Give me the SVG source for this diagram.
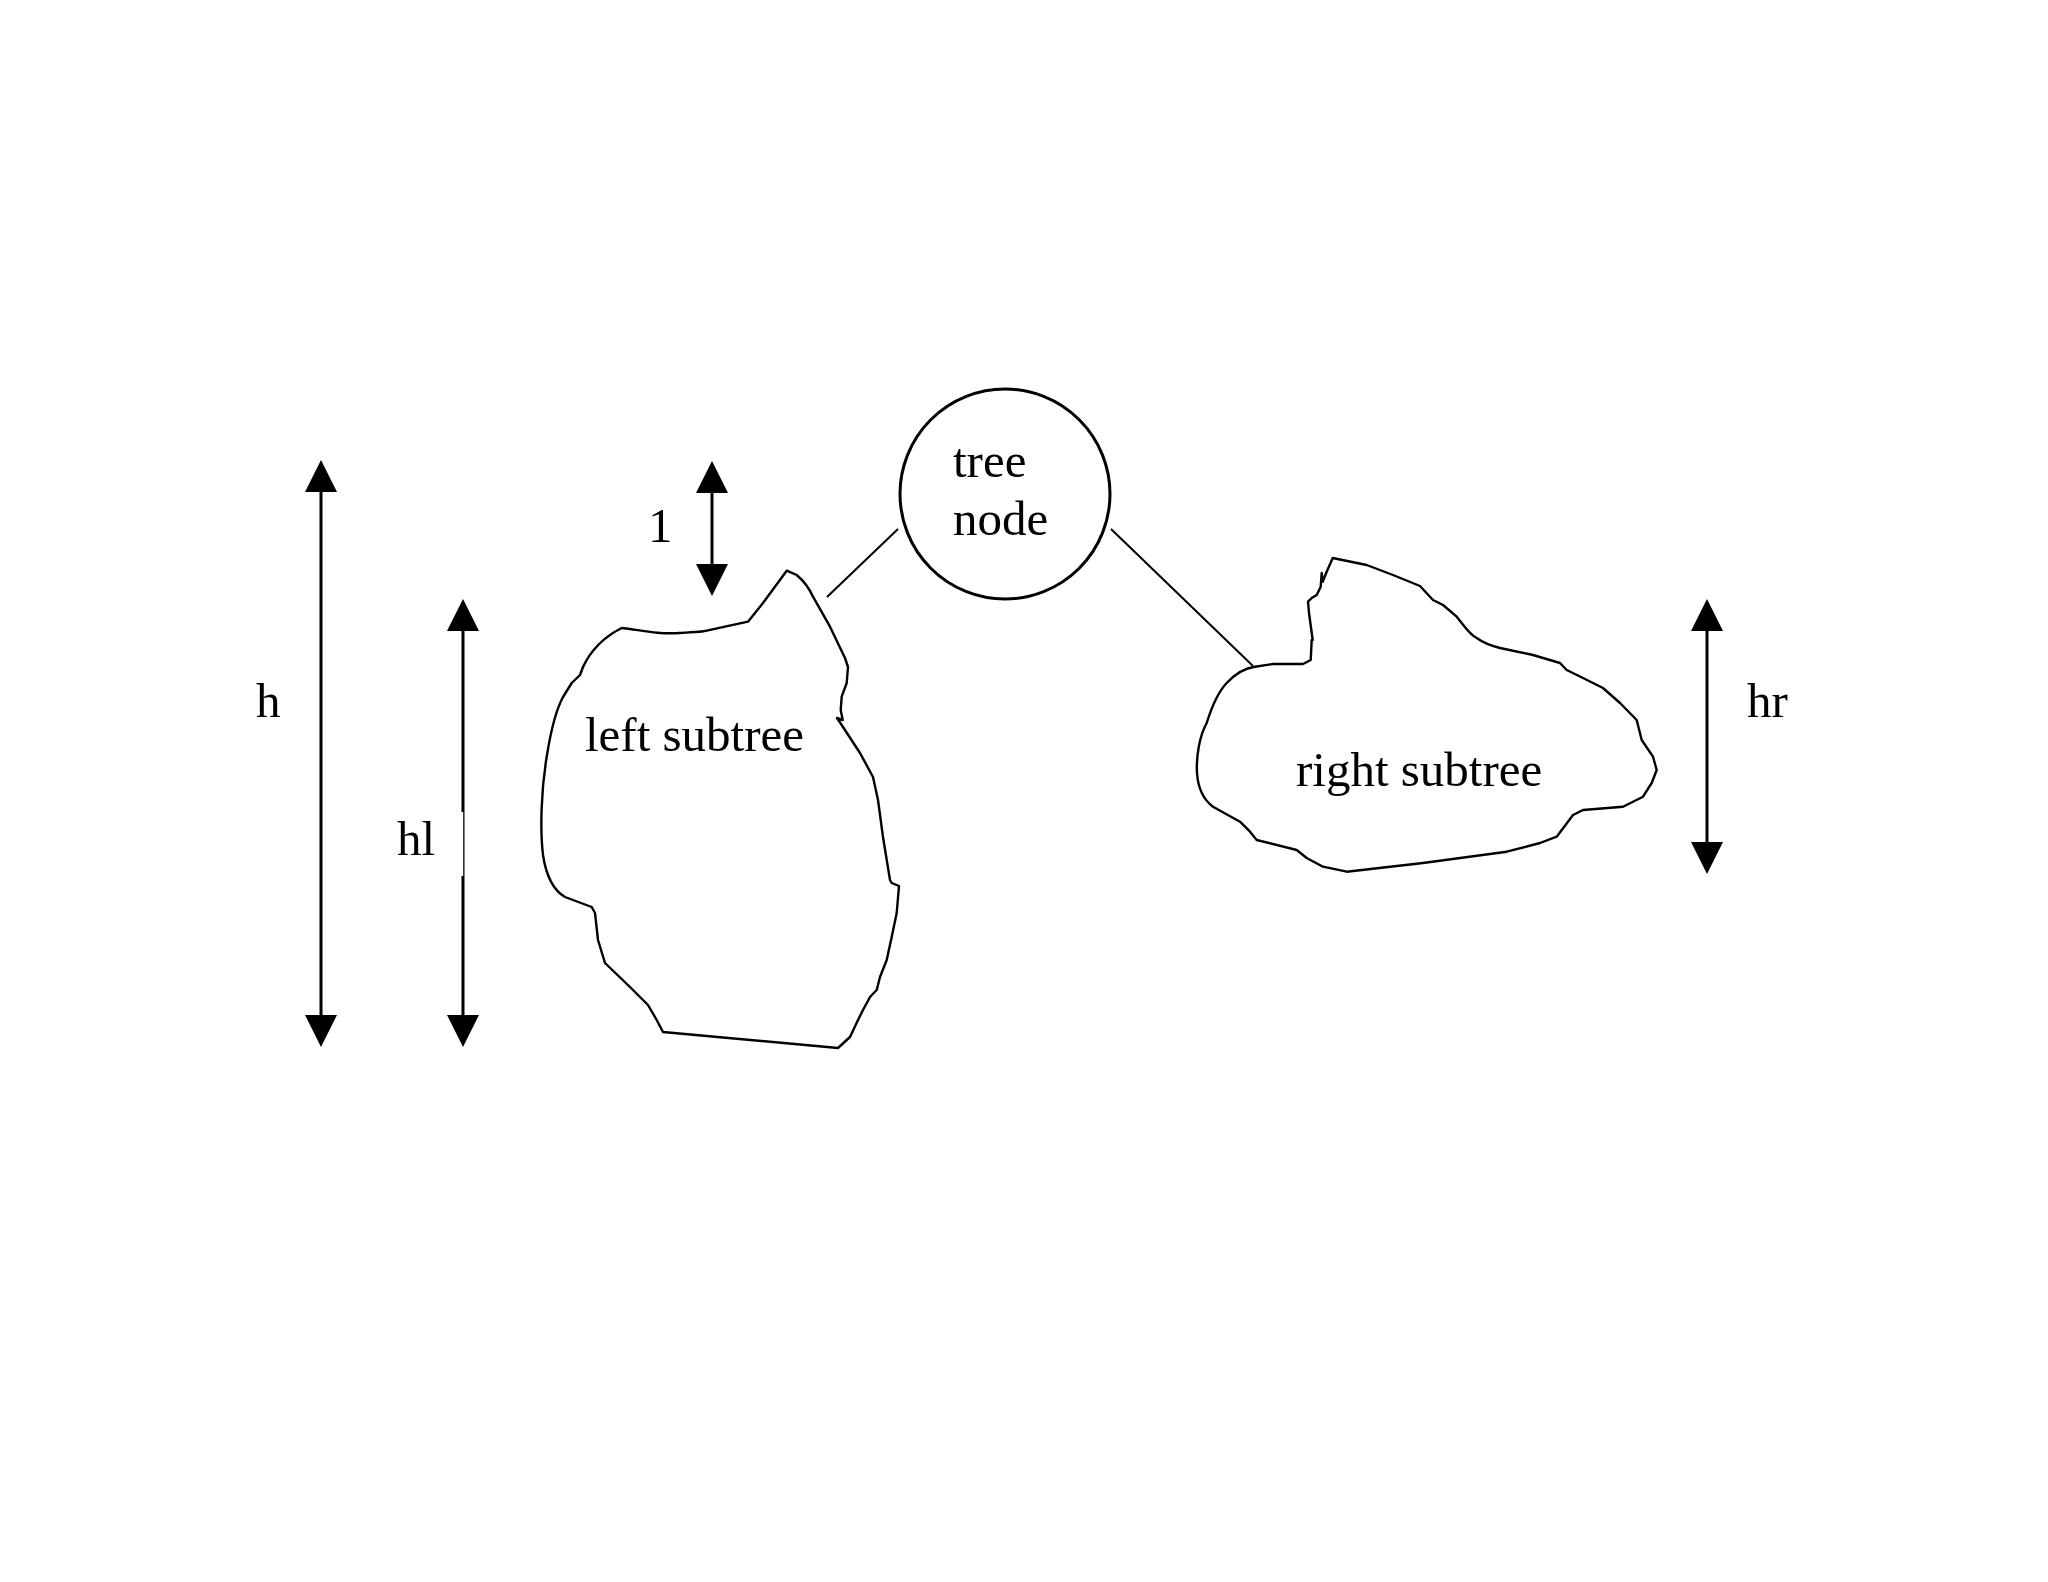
<svg xmlns="http://www.w3.org/2000/svg" width="2048" height="1582" viewBox="0 0 2048 1582">
<style>
  .lbl { font-family: "Liberation Serif", "Times New Roman", serif; font-size: 49px; fill: #000; }
  .blob { fill: none; stroke: #000; stroke-width: 2.4; stroke-linejoin: round; stroke-linecap: round; }
  .edge { stroke: #000; stroke-width: 2; fill: none; }
  .dim { stroke: #000; stroke-width: 3; fill: none; marker-start: url(#head); marker-end: url(#head); }
</style>
<defs>
  <marker id="head" viewBox="0 -16 32 32" markerWidth="32" markerHeight="32" refX="1" refY="0" orient="auto-start-reverse" markerUnits="userSpaceOnUse">
    <path d="M0,-16 L32,0 L0,16 Z" fill="#000"/>
  </marker>
</defs>
<rect width="2048" height="1582" fill="#fff"/>

<g id="connectors">
  <line class="edge" x1="898" y1="529" x2="827" y2="597"/>
  <line class="edge" x1="1111" y1="529" x2="1253" y2="666"/>
</g>

<g id="node-tree">
  <circle cx="1005" cy="494" r="105" fill="none" stroke="#000" stroke-width="3"/>
  <text class="lbl" x="953" y="477">tree</text>
  <text class="lbl" x="953" y="535">node</text>
</g>

<g id="node-left-subtree">
  <path class="blob" d="M786.7,570.7 L796.7,575 C805,582 810,590 813,596.7 L830,626.7 L845,658 L848,667 L846.7,683 L841.7,696.7 L840.7,710 L842.7,720 L837,718 L841.7,725 L860,753 L873,777 L878,800 L883,837 L890,880 L891.7,883 L899,886 L896.7,913 L891.7,937 L886.7,960 L880,977 L876.7,990 L870,997 L863,1010 L858,1020 L850,1037 L838,1048 L663,1032 L656.7,1020 L648,1005 L630,987 L605,963 L598,940 L595,913 L591.7,907 L565,897 C553,890 546,875 543,855 C540,830 541,790 547,755 C551,730 556,710 563,697 L571.7,683 L580,675 L583,667 C590,652 602,638 621.7,628 L630,629 C650,632 660,634 680,633 C700,632 706,631 706.7,630.7 L748,621.7 L763,603 Z"/>
  <text class="lbl" x="585" y="751">left subtree</text>
</g>

<g id="node-right-subtree">
  <path class="blob" d="M1311.7,640 L1312.7,640 L1309,613 L1308,601.7 L1311.7,598 L1316.7,595 L1320.7,586.7 L1321.7,573 L1322.7,581.7 L1326.7,571.7 L1332.7,558 L1366.7,565 L1393,575 L1420,586 L1433,600 L1443,605 L1456.7,616.7 C1465,627 1470,635 1476.7,638 C1485,644 1492,646 1500,648 L1533,655 L1560,663 L1566.7,670 L1583,678 L1603,688 L1620,703 L1636.7,720 L1641.7,740 L1653,756.7 L1656.7,770 L1651.7,783 L1643,796.7 L1623,806.7 L1583,810 L1573,815 L1556.7,836.7 L1540,843 L1506.7,851.7 L1423,863 L1346.7,871.7 L1323,866.7 L1306.7,858 L1296.7,850 L1256.7,840 L1250,831.7 L1240,821.7 L1213,806.7 C1204,800 1198,788 1197,773 C1196,755 1200,735 1206.7,723 C1212,706 1218,692 1226.7,683 C1236,673 1245,668 1255,666.7 L1273,664 L1303,664 L1310.7,660 Z"/>
  <text class="lbl" x="1296" y="786">right subtree</text>
</g>

<g id="dim-h">
  <line class="dim" x1="321" y1="491" x2="321" y2="1016"/>
  <text class="lbl" x="256" y="717">h</text>
</g>

<g id="dim-hl">
  <line class="dim" x1="463" y1="630" x2="463" y2="1016"/>
  <rect x="459" y="812" width="4.2" height="64" fill="#fff"/>
  <text class="lbl" x="397" y="855">hl</text>
</g>

<g id="dim-1">
  <line class="dim" x1="712" y1="492" x2="712" y2="565"/>
  <text class="lbl" x="648" y="542">1</text>
</g>

<g id="dim-hr">
  <line class="dim" x1="1707" y1="630" x2="1707" y2="843"/>
  <text class="lbl" x="1747" y="717">hr</text>
</g>
</svg>
